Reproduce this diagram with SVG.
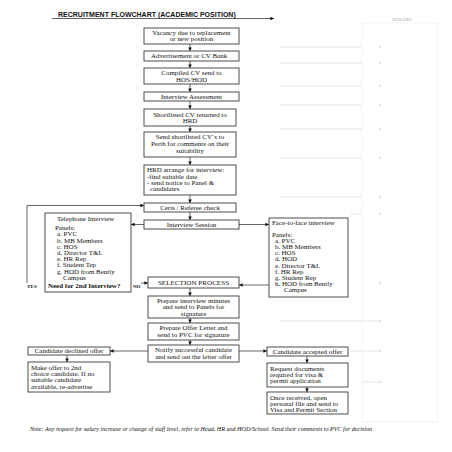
<svg xmlns="http://www.w3.org/2000/svg" width="452" height="452" viewBox="0 0 452 452">
<style>
.box{fill:#fff;stroke:#3a3a3a;stroke-width:0.9}
.t{font-family:"Liberation Serif","Times New Roman",serif;font-size:5.5px;fill:#111}
.c{text-anchor:middle}
.b{font-weight:bold}
.ln{fill:none;stroke:#222;stroke-width:0.7}
.faint{fill:none;stroke:#d6d6d6;stroke-width:0.6}
.dot{fill:none;stroke:#d0d0d0;stroke-width:0.6;stroke-dasharray:1,1.5}
.tick{stroke:#bbb;stroke-width:0.8}
</style>
<defs>
<marker id="ah" viewBox="0 0 6 6" refX="6" refY="3" markerWidth="3.6" markerHeight="3.6" markerUnits="userSpaceOnUse" orient="auto">
<path d="M0,0 L6,3 L0,6 z" fill="#111"/>
</marker>
</defs>
<rect width="452" height="452" fill="#fff"/>

<g id="title">
<text x="58" y="16.5" style="font-family:'Liberation Sans',Arial,sans-serif;font-size:7px;font-weight:bold;fill:#111">RECRUITMENT FLOWCHART (ACADEMIC POSITION)</text>
<line x1="52" y1="18.5" x2="274" y2="18.5" class="ln" marker-end="url(#ah)"/>
</g>

<g id="remarks">
<text x="402" y="21" text-anchor="middle" style="font-family:'Liberation Serif',serif;font-size:4px;fill:#aaa">REMARKS</text>
<line x1="362" y1="23" x2="438" y2="23" class="dot"/>
<line x1="362" y1="23" x2="362" y2="422" class="dot"/>
<line x1="438" y1="23" x2="438" y2="422" class="dot"/>
<line x1="362" y1="422" x2="438" y2="422" class="dot"/>
<line x1="280" y1="47" x2="362" y2="47" class="faint"/>
<line x1="280" y1="63" x2="362" y2="63" class="faint"/>
<line x1="280" y1="86" x2="362" y2="86" class="faint"/>
<line x1="280" y1="105" x2="362" y2="105" class="faint"/>
<line x1="280" y1="129" x2="362" y2="129" class="faint"/>
<line x1="280" y1="158" x2="362" y2="158" class="faint"/>
<line x1="280" y1="197" x2="362" y2="197" class="faint"/>
<line x1="350" y1="214" x2="362" y2="214" class="faint"/>
<line x1="280" y1="321" x2="380" y2="321" class="faint"/>
<line x1="350" y1="351" x2="380" y2="351" class="faint"/>
<line x1="362" y1="382" x2="380" y2="382" class="faint"/>
<g class="tick">
<line x1="379" y1="47" x2="381" y2="47"/>
<line x1="379" y1="63" x2="381" y2="63"/>
<line x1="379" y1="86" x2="381" y2="86"/>
<line x1="379" y1="105" x2="381" y2="105"/>
<line x1="379" y1="129" x2="381" y2="129"/>
<line x1="379" y1="158" x2="381" y2="158"/>
<line x1="379" y1="197" x2="381" y2="197"/>
<line x1="379" y1="214" x2="381" y2="214"/>
<line x1="379" y1="283" x2="381" y2="283"/>
<line x1="379" y1="321" x2="381" y2="321"/>
<line x1="379" y1="351" x2="381" y2="351"/>
<line x1="379" y1="382" x2="381" y2="382"/>
</g>
</g>

<g id="connectors">
<line x1="190" y1="44" x2="190" y2="51" class="ln" marker-end="url(#ah)"/>
<line x1="190" y1="61" x2="190" y2="68" class="ln" marker-end="url(#ah)"/>
<line x1="190" y1="84" x2="190" y2="92" class="ln" marker-end="url(#ah)"/>
<line x1="190" y1="101" x2="190" y2="109" class="ln" marker-end="url(#ah)"/>
<line x1="190" y1="126" x2="190" y2="132" class="ln" marker-end="url(#ah)"/>
<line x1="190" y1="157" x2="190" y2="165" class="ln" marker-end="url(#ah)"/>
<line x1="190" y1="195" x2="190" y2="203" class="ln" marker-end="url(#ah)"/>
<line x1="190" y1="212" x2="190" y2="220" class="ln" marker-end="url(#ah)"/>
<line x1="144" y1="224.5" x2="131" y2="224.5" class="ln" marker-end="url(#ah)"/>
<line x1="239" y1="224.5" x2="269" y2="224.5" class="ln" marker-end="url(#ah)"/>
<polyline points="27,283 27,205.5 144,205.5" class="ln" marker-end="url(#ah)"/>
<line x1="141" y1="283" x2="148" y2="283" class="ln" marker-end="url(#ah)"/>
<line x1="269" y1="285" x2="239" y2="285" class="ln" marker-end="url(#ah)"/>
<line x1="190" y1="288" x2="190" y2="296" class="ln" marker-end="url(#ah)"/>
<line x1="190" y1="318" x2="190" y2="323" class="ln" marker-end="url(#ah)"/>
<line x1="190" y1="340" x2="190" y2="345" class="ln" marker-end="url(#ah)"/>
<line x1="148" y1="351" x2="110" y2="351" class="ln" marker-end="url(#ah)"/>
<line x1="239" y1="351" x2="267" y2="351" class="ln" marker-end="url(#ah)"/>
<line x1="67" y1="355" x2="67" y2="362" class="ln" marker-end="url(#ah)"/>
<line x1="307" y1="356" x2="307" y2="363" class="ln" marker-end="url(#ah)"/>
<line x1="307" y1="387" x2="307" y2="392" class="ln" marker-end="url(#ah)"/>
<text x="27" y="287.5" class="t b" style="font-size:5px">YES</text>
<text x="133" y="288" class="t b" style="font-size:5px">NO</text>
</g>

<g id="vacancy">
<rect x="144" y="28" width="95" height="16" class="box"/>
<text class="t c" transform="translate(191.5,35) scale(1.27,1)">Vacancy due to replacement</text>
<text class="t c" transform="translate(191.5,41.3) scale(1.27,1)">or new position</text>
</g>
<g id="advert">
<rect x="144" y="51" width="95" height="10" class="box"/>
<text class="t c" transform="translate(189,58.4) scale(1.27,1)">Advertisement or CV Bank</text>
</g>
<g id="compiled">
<rect x="144" y="68" width="95" height="16" class="box"/>
<text class="t c" transform="translate(191.5,75.3) scale(1.27,1)">Compiled CV send to</text>
<text class="t c" transform="translate(191.5,81.6) scale(1.27,1)">HOS/HOD</text>
</g>
<g id="assessment">
<rect x="144" y="92" width="95" height="9" class="box"/>
<text class="t c" transform="translate(191.5,99) scale(1.27,1)">Interview Assessment</text>
</g>
<g id="shortlisted">
<rect x="144" y="109" width="92" height="17" class="box"/>
<text class="t c" transform="translate(190,116.6) scale(1.27,1)">Shortlisted  CV returned to</text>
<text class="t c" transform="translate(190,123) scale(1.27,1)">HRD</text>
</g>
<g id="perth">
<rect x="144" y="132" width="92" height="25" class="box"/>
<text class="t c" transform="translate(190,139) scale(1.27,1)">Send shortlisted CV`s  to</text>
<text class="t c" transform="translate(190,145.8) scale(1.27,1)">Perth for comments on their</text>
<text class="t c" transform="translate(190,153) scale(1.27,1)">suitability</text>
</g>
<g id="hrd">
<rect x="144" y="165" width="92" height="30" class="box"/>
<text class="t" transform="translate(147,172.3) scale(1.27,1)">HRD arrange for interview:</text>
<text class="t" transform="translate(147,178.5) scale(1.27,1)">-find suitable date</text>
<text class="t" transform="translate(147,185) scale(1.27,1)">- send notice to Panel &amp;</text>
<text class="t" transform="translate(150,191.3) scale(1.27,1)">candidates</text>
</g>
<g id="certs">
<rect x="144" y="203" width="92" height="9" class="box"/>
<text class="t c" transform="translate(190,209.8) scale(1.27,1)">Certs / Referee check</text>
</g>
<g id="session">
<rect x="144" y="220" width="95" height="9" class="box"/>
<text class="t c" transform="translate(191.5,227.3) scale(1.27,1)">Interview Session</text>
</g>
<g id="telephone">
<rect x="45" y="213" width="86" height="79" class="box"/>
<text class="t" transform="translate(57,221.3) scale(1.27,1)">Telephone Interview</text>
<text class="t" transform="translate(55,230) scale(1.27,1)">Panels:</text>
<text class="t" transform="translate(57,236.3) scale(1.27,1)">a. PVC</text>
<text class="t" transform="translate(57,242.5) scale(1.27,1)">b. MB Members</text>
<text class="t" transform="translate(57,248.7) scale(1.27,1)">c. HOS</text>
<text class="t" transform="translate(57,254.9) scale(1.27,1)">d. Director T&amp;L</text>
<text class="t" transform="translate(57,261.1) scale(1.27,1)">e. HR Rep</text>
<text class="t" transform="translate(57,267.3) scale(1.27,1)">f. Student Tep</text>
<text class="t" transform="translate(57,273.5) scale(1.27,1)">g. HOD from Bently</text>
<text class="t" transform="translate(63,279.7) scale(1.27,1)">Campus</text>
<text class="t b" transform="translate(48,288.3) scale(1.27,1)">Need for 2nd Interview?</text>
</g>
<g id="facetoface">
<rect x="269" y="218" width="79" height="79" class="box"/>
<text class="t" transform="translate(272,225) scale(1.27,1)">Face-to-face interview</text>
<text class="t" transform="translate(272,236.5) scale(1.27,1)">Panels:</text>
<text class="t" transform="translate(275,242.7) scale(1.27,1)">a. PVC</text>
<text class="t" transform="translate(275,248.9) scale(1.27,1)">b. MB Members</text>
<text class="t" transform="translate(275,255.1) scale(1.27,1)">c. HOS</text>
<text class="t" transform="translate(275,261.3) scale(1.27,1)">d. HOD</text>
<text class="t" transform="translate(275,267.5) scale(1.27,1)">e. Director T&amp;L</text>
<text class="t" transform="translate(275,273.7) scale(1.27,1)">f. HR Rep</text>
<text class="t" transform="translate(275,279.9) scale(1.27,1)">g. Student Rep</text>
<text class="t" transform="translate(275,286.1) scale(1.27,1)">h. HOD from Bently</text>
<text class="t" transform="translate(284,292.3) scale(1.27,1)">Campus</text>
</g>
<g id="selection">
<rect x="148" y="277" width="91" height="11" class="box"/>
<text class="t c" transform="translate(193.5,284.6) scale(1.27,1)" style="font-size:5.6px">SELECTION PROCESS</text>
</g>
<g id="minutes">
<rect x="148" y="296" width="91" height="22" class="box"/>
<text class="t c" transform="translate(193.5,302.6) scale(1.27,1)">Prepare interview minutes</text>
<text class="t c" transform="translate(193.5,309) scale(1.27,1)">and send to Panels for</text>
<text class="t c" transform="translate(193.5,315.6) scale(1.27,1)">signature</text>
</g>
<g id="offer">
<rect x="148" y="323" width="91" height="17" class="box"/>
<text class="t c" transform="translate(193.5,329.8) scale(1.27,1)">Prepare Offer Letter and</text>
<text class="t c" transform="translate(193.5,337.3) scale(1.27,1)">send to PVC for signature</text>
</g>
<g id="notify">
<rect x="148" y="345" width="91" height="17" class="box"/>
<text class="t c" transform="translate(193.5,352.3) scale(1.27,1)">Notify successful candidate</text>
<text class="t c" transform="translate(193.5,359) scale(1.27,1)">and send out the letter offer</text>
</g>
<g id="declined">
<rect x="28" y="347" width="82" height="8" class="box"/>
<text class="t c" transform="translate(69,353.3) scale(1.27,1)">Candidate declined offer</text>
</g>
<g id="makeoffer">
<rect x="28" y="362" width="82" height="30" class="box"/>
<text class="t" transform="translate(31,369.8) scale(1.27,1)">Make offer to 2nd</text>
<text class="t" transform="translate(31,376) scale(1.27,1)">choice candidate. If no</text>
<text class="t" transform="translate(31,382.3) scale(1.27,1)">suitable candidate</text>
<text class="t" transform="translate(31,388.6) scale(1.27,1)">available, re-advertise</text>
</g>
<g id="accepted">
<rect x="267" y="347" width="81" height="9" class="box"/>
<text class="t c" transform="translate(307.5,354) scale(1.27,1)">Candidate accepted offer</text>
</g>
<g id="request">
<rect x="267" y="363" width="81" height="24" class="box"/>
<text class="t" transform="translate(270,370.6) scale(1.27,1)">Request documents</text>
<text class="t" transform="translate(270,376.9) scale(1.27,1)">required for visa &amp;</text>
<text class="t" transform="translate(270,383.3) scale(1.27,1)">permit application</text>
</g>
<g id="received">
<rect x="267" y="392" width="81" height="22" class="box"/>
<text class="t" transform="translate(270,399.6) scale(1.27,1)">Once received, open</text>
<text class="t" transform="translate(270,405.8) scale(1.27,1)">personal file and send to</text>
<text class="t" transform="translate(270,412) scale(1.27,1)">Visa and Permit Section</text>
</g>
<g id="note">
<text class="t" x="30" y="430.5" style="font-size:5.6px;font-style:italic" textLength="342" lengthAdjust="spacingAndGlyphs">Note: Any request for salary increase or change of staff level, refer to Head, HR and HOD/School. Send their comments to PVC for decision</text>
</g>
</svg>
